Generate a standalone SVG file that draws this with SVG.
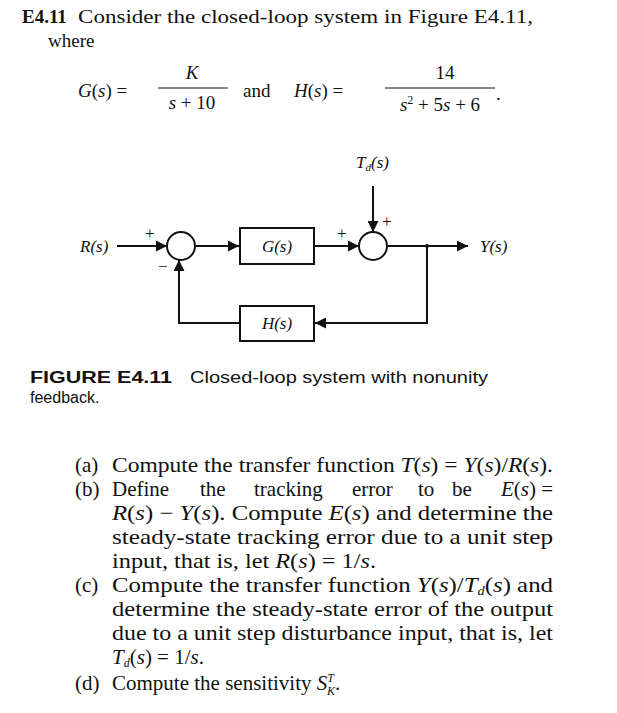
<svg xmlns="http://www.w3.org/2000/svg" width="617" height="713" viewBox="0 0 617 713">
<style>
.t{font-family:"Liberation Serif",serif;font-size:21px;fill:#111}
.s{font-family:"Liberation Serif",serif;font-size:19px;fill:#111}
.i{font-style:italic}
.d{font-family:"Liberation Serif",serif;font-size:17px;fill:#111}
.c{font-family:"Liberation Sans",sans-serif;font-size:16px;fill:#111}
.ln{stroke:#111;stroke-width:2;fill:none}
.bx{stroke:#111;stroke-width:2;fill:#fff}
</style>
<defs><marker id="a" viewBox="0 0 10 10" refX="10" refY="5" markerWidth="11" markerHeight="11" markerUnits="userSpaceOnUse" orient="auto"><path d="M0,0L10,5L0,10z" fill="#111"/></marker></defs>
<rect width="617" height="713" fill="#fff"/>
<text class="s" x="22" y="23"><tspan font-weight="bold">E4.11</tspan></text>
<text class="s" x="78" y="23" textLength="455" lengthAdjust="spacingAndGlyphs">Consider the closed-loop system in Figure E4.11,</text>
<text class="s" x="48" y="47">where</text>
<text class="s" x="78" y="97"><tspan class="i">G</tspan>(<tspan class="i">s</tspan>) =</text>
<text class="s i" x="192" y="79" text-anchor="middle">K</text>
<line x1="158" y1="88" x2="228" y2="88" stroke="#111" stroke-width="1"/>
<text class="s" x="192" y="109" text-anchor="middle"><tspan class="i">s</tspan> + 10</text>
<text class="s" x="243" y="97">and</text>
<text class="s" x="294" y="97"><tspan class="i">H</tspan>(<tspan class="i">s</tspan>) =</text>
<text class="s" x="445" y="79" text-anchor="middle">14</text>
<line x1="385" y1="88" x2="495" y2="88" stroke="#111" stroke-width="1"/>
<text class="s" x="440" y="111" text-anchor="middle"><tspan class="i">s</tspan><tspan dy="-7" font-size="12">2</tspan><tspan dy="7"> + 5</tspan><tspan class="i">s</tspan> + 6</text>
<text class="s" x="496" y="100">.</text>
<g id="connectors" class="ln">
<line x1="117" y1="246" x2="167" y2="246" marker-end="url(#a)"/>
<line x1="195" y1="246" x2="239" y2="246" marker-end="url(#a)"/>
<line x1="314" y1="246" x2="359" y2="246" marker-end="url(#a)"/>
<line x1="373" y1="186" x2="373" y2="232" marker-end="url(#a)"/>
<line x1="387" y1="246" x2="468" y2="246" marker-end="url(#a)"/>
<polyline points="427,246 427,323 315,323" marker-end="url(#a)"/>
<polyline points="240,323 179,323 179,260" marker-end="url(#a)"/>
</g>
<circle cx="427" cy="246" r="2" fill="#111"/>
<g id="R"><text class="d i" x="80" y="252">R(s)</text></g>
<g id="sum1"><circle class="bx" cx="181" cy="246" r="14"/><text class="d" x="145" y="239">+</text><text class="d" x="158" y="272">−</text></g>
<g id="G"><rect class="bx" x="240" y="228" width="74" height="36"/><text class="d i" x="277" y="252" text-anchor="middle">G(s)</text></g>
<g id="sum2"><circle class="bx" cx="373" cy="246" r="14"/><text class="d" x="337" y="239">+</text><text class="d" x="382" y="227">+</text></g>
<g id="Td"><text class="d i" x="356" y="168">T<tspan font-size="11" dy="3">d</tspan><tspan dy="-3">(s)</tspan></text></g>
<g id="Y"><text class="d i" x="480" y="252">Y(s)</text></g>
<g id="H"><rect class="bx" x="240" y="306" width="74" height="35"/><text class="d i" x="277" y="329" text-anchor="middle">H(s)</text></g>
<text class="c" x="30" y="383" font-weight="bold" font-size="17" textLength="142" lengthAdjust="spacingAndGlyphs">FIGURE E4.11</text>
<text class="c" x="190" y="383" textLength="298" lengthAdjust="spacingAndGlyphs">Closed-loop system with nonunity</text>
<text class="c" x="30" y="403">feedback.</text>
<g class="t">
<text x="75" y="472">(a)</text><text x="112" y="472" textLength="441" lengthAdjust="spacingAndGlyphs">Compute the transfer function <tspan class="i">T</tspan>(<tspan class="i">s</tspan>) = <tspan class="i">Y</tspan>(<tspan class="i">s</tspan>)/<tspan class="i">R</tspan>(<tspan class="i">s</tspan>).</text>
<text x="75" y="496">(b)</text>
<text x="112" y="496">Define</text>
<text x="200" y="496">the</text>
<text x="254" y="496">tracking</text>
<text x="352" y="496">error</text>
<text x="418" y="496">to</text>
<text x="452" y="496">be</text>
<text x="553" y="496" text-anchor="end"><tspan class="i">E</tspan>(<tspan class="i">s</tspan>) =</text>
<text x="112" y="520" textLength="441" lengthAdjust="spacingAndGlyphs"><tspan class="i">R</tspan>(<tspan class="i">s</tspan>) − <tspan class="i">Y</tspan>(<tspan class="i">s</tspan>). Compute <tspan class="i">E</tspan>(<tspan class="i">s</tspan>) and determine the</text>
<text x="112" y="544" textLength="441" lengthAdjust="spacingAndGlyphs">steady-state tracking error due to a unit step</text>
<text x="112" y="568" textLength="264" lengthAdjust="spacingAndGlyphs">input, that is, let <tspan class="i">R</tspan>(<tspan class="i">s</tspan>) = 1/<tspan class="i">s</tspan>.</text>
<text x="75" y="592">(c)</text><text x="112" y="592" textLength="441" lengthAdjust="spacingAndGlyphs">Compute the transfer function <tspan class="i">Y</tspan>(<tspan class="i">s</tspan>)/<tspan class="i">T</tspan><tspan class="i" font-size="12" dy="3">d</tspan><tspan dy="-3">(</tspan><tspan class="i">s</tspan>) and</text>
<text x="112" y="616" textLength="441" lengthAdjust="spacingAndGlyphs">determine the steady-state error of the output</text>
<text x="112" y="640" textLength="441" lengthAdjust="spacingAndGlyphs">due to a unit step disturbance input, that is, let</text>
<text x="112" y="664"><tspan class="i">T</tspan><tspan class="i" font-size="12" dy="3">d</tspan><tspan dy="-3">(</tspan><tspan class="i">s</tspan>) = 1/<tspan class="i">s</tspan>.</text>
<text x="75" y="690">(d)</text><text x="112" y="690">Compute the sensitivity <tspan class="i">S</tspan><tspan class="i" font-size="12" dy="-8">T</tspan><tspan class="i" font-size="12" dx="-7" dy="13">K</tspan><tspan dy="-5">.</tspan></text>
</g>
</svg>
